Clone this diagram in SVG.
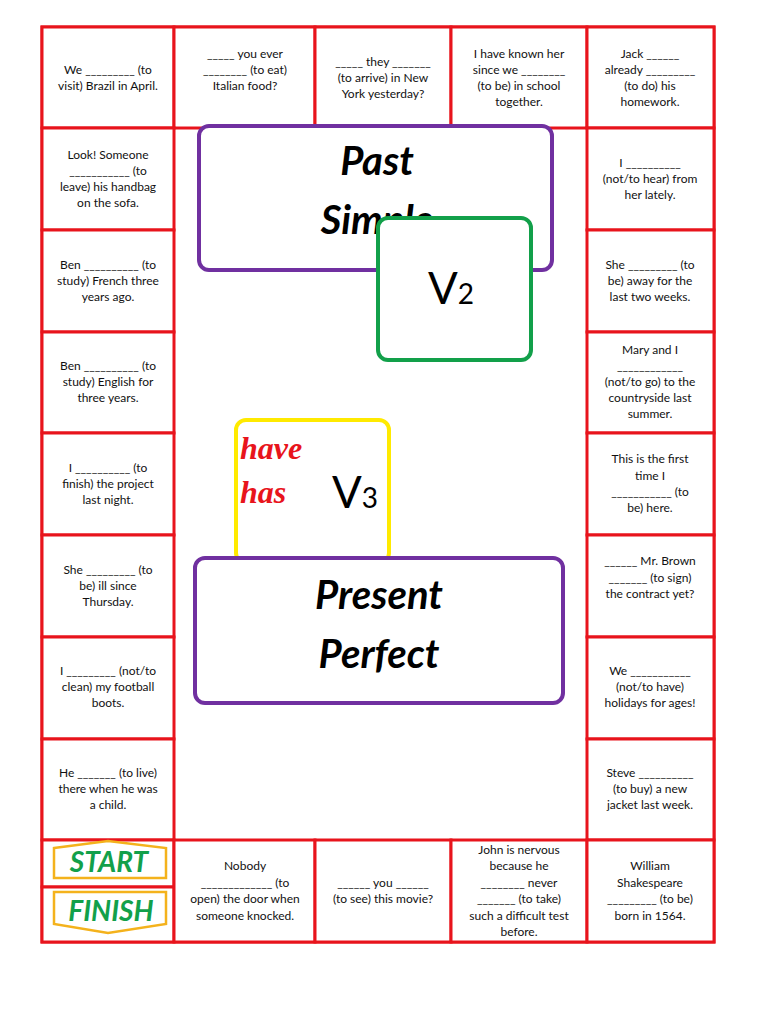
<svg xmlns="http://www.w3.org/2000/svg" width="768" height="1024" viewBox="0 0 768 1024">
<style>
.c{fill:#fff;stroke:#e8141c;stroke-width:3}
.t{font-family:Lato,"Open Sans",sans-serif;font-size:12px;fill:#111;text-anchor:middle}
.b{font-family:Lato,"Open Sans",sans-serif;font-style:italic;font-weight:bold;font-size:40px;fill:#000;text-anchor:middle}
.v{font-family:Lato,"Open Sans",sans-serif;font-size:44px;fill:#000}
.r{font-family:"Liberation Serif",serif;font-style:italic;font-weight:bold;font-size:32px;fill:#e8141c}
.g{font-family:Lato,"Open Sans",sans-serif;font-style:italic;font-weight:bold;font-size:28px;fill:#12a04a;text-anchor:middle}
.h{fill:#fff;stroke:#f4b21c;stroke-width:2.5}
</style>
<rect width="768" height="1024" fill="#fff"/>
<rect class="c" x="42" y="27" width="672" height="915"/>
<g id="cells">
<rect class="c" x="42" y="27" width="132" height="101"/><rect class="c" x="174" y="27" width="141" height="101"/><rect class="c" x="315" y="27" width="136" height="101"/><rect class="c" x="451" y="27" width="136" height="101"/><rect class="c" x="587" y="27" width="127" height="101"/>
<rect class="c" x="42" y="128" width="132" height="102"/><rect class="c" x="42" y="230" width="132" height="102"/><rect class="c" x="42" y="332" width="132" height="101"/><rect class="c" x="42" y="433" width="132" height="102"/><rect class="c" x="42" y="535" width="132" height="102"/><rect class="c" x="42" y="637" width="132" height="102"/><rect class="c" x="42" y="739" width="132" height="101"/>
<rect class="c" x="587" y="128" width="127" height="102"/><rect class="c" x="587" y="230" width="127" height="102"/><rect class="c" x="587" y="332" width="127" height="101"/><rect class="c" x="587" y="433" width="127" height="102"/><rect class="c" x="587" y="535" width="127" height="102"/><rect class="c" x="587" y="637" width="127" height="102"/><rect class="c" x="587" y="739" width="127" height="101"/>
<rect class="c" x="42" y="840" width="132" height="47"/><rect class="c" x="42" y="887" width="132" height="55"/>
<rect class="c" x="174" y="840" width="141" height="102"/><rect class="c" x="315" y="840" width="136" height="102"/><rect class="c" x="451" y="840" width="136" height="102"/><rect class="c" x="587" y="840" width="127" height="102"/>
</g>
<g id="texts">
<text class="t" x="108" y="74">We _________ (to</text><text class="t" x="108" y="90">visit) Brazil in April.</text>
<text class="t" x="245" y="58">_____ you ever</text><text class="t" x="245" y="74">________ (to eat)</text><text class="t" x="245" y="90">Italian food?</text>
<text class="t" x="383" y="66">_____ they _______</text><text class="t" x="383" y="82">(to arrive) in New</text><text class="t" x="383" y="98">York yesterday?</text>
<text class="t" x="519" y="58">I have known her</text><text class="t" x="519" y="74">since we ________</text><text class="t" x="519" y="90">(to be) in school</text><text class="t" x="519" y="106">together.</text>
<text class="t" x="650" y="58">Jack ______</text><text class="t" x="650" y="74">already _________</text><text class="t" x="650" y="90">(to do) his</text><text class="t" x="650" y="106">homework.</text>
<text class="t" x="108" y="159">Look! Someone</text><text class="t" x="108" y="175">___________ (to</text><text class="t" x="108" y="191">leave) his handbag</text><text class="t" x="108" y="207">on the sofa.</text>
<text class="t" x="108" y="269">Ben __________ (to</text><text class="t" x="108" y="285">study) French three</text><text class="t" x="108" y="301">years ago.</text>
<text class="t" x="108" y="370">Ben __________ (to</text><text class="t" x="108" y="386">study) English for</text><text class="t" x="108" y="402">three years.</text>
<text class="t" x="108" y="472">I __________ (to</text><text class="t" x="108" y="488">finish) the project</text><text class="t" x="108" y="504">last night.</text>
<text class="t" x="108" y="574">She _________ (to</text><text class="t" x="108" y="590">be) ill since</text><text class="t" x="108" y="606">Thursday.</text>
<text class="t" x="108" y="675">I _________ (not/to</text><text class="t" x="108" y="691">clean) my football</text><text class="t" x="108" y="707">boots.</text>
<text class="t" x="108" y="777">He _______ (to live)</text><text class="t" x="108" y="793">there when he was</text><text class="t" x="108" y="809">a child.</text>
<text class="t" x="650" y="167">I __________</text><text class="t" x="650" y="183">(not/to hear) from</text><text class="t" x="650" y="199">her lately.</text>
<text class="t" x="650" y="269">She _________ (to</text><text class="t" x="650" y="285">be) away for the</text><text class="t" x="650" y="301">last two weeks.</text>
<text class="t" x="650" y="354">Mary and I</text><text class="t" x="650" y="370">____________</text><text class="t" x="650" y="386">(not/to go) to the</text><text class="t" x="650" y="402">countryside last</text><text class="t" x="650" y="418">summer.</text>
<text class="t" x="650" y="463">This is the first</text><text class="t" x="650" y="480">time I</text><text class="t" x="650" y="496">___________ (to</text><text class="t" x="650" y="512">be) here.</text>
<text class="t" x="650" y="565">______ Mr. Brown</text><text class="t" x="650" y="582">_______ (to sign)</text><text class="t" x="650" y="598">the contract yet?</text>
<text class="t" x="650" y="675">We ___________</text><text class="t" x="650" y="691">(not/to have)</text><text class="t" x="650" y="707">holidays for ages!</text>
<text class="t" x="650" y="777">Steve __________</text><text class="t" x="650" y="793">(to buy) a new</text><text class="t" x="650" y="809">jacket last week.</text>
<text class="t" x="245" y="870">Nobody</text><text class="t" x="245" y="887">_____________ (to</text><text class="t" x="245" y="903">open) the door when</text><text class="t" x="245" y="920">someone knocked.</text>
<text class="t" x="383" y="887">______ you ______</text><text class="t" x="383" y="903">(to see) this movie?</text>
<text class="t" x="519" y="854">John is nervous</text><text class="t" x="519" y="870">because he</text><text class="t" x="519" y="887">________ never</text><text class="t" x="519" y="903">_______ (to take)</text><text class="t" x="519" y="920">such a difficult test</text><text class="t" x="519" y="936">before.</text>
<text class="t" x="650" y="870">William</text><text class="t" x="650" y="887">Shakespeare</text><text class="t" x="650" y="903">_________ (to be)</text><text class="t" x="650" y="920">born in 1564.</text>
</g>
<g id="start"><polygon class="h" points="54,848 108,841 166,848 166,878 54,878"/><text class="g" x="109" y="872">START</text></g>
<g id="finish"><polygon class="h" points="54,892 166,892 166,924 108,933 54,924"/><text class="g" x="111" y="921">FINISH</text></g>
<g id="past"><rect x="199" y="126" width="353" height="144" rx="10" fill="#fff" stroke="#7030a0" stroke-width="4"/><text class="b" x="377" y="175">Past</text><text class="b" x="377" y="234">Simple</text></g>
<g id="v2"><rect x="378" y="218" width="153" height="142" rx="10" fill="#fff" stroke="#12a04a" stroke-width="4"/><text class="v" x="428" y="304">V<tspan font-size="28">2</tspan></text></g>
<g id="v3"><rect x="236" y="420" width="153" height="143" rx="10" fill="#fff" stroke="#ffea00" stroke-width="4"/><text class="r" x="240" y="459">have</text><text class="r" x="240" y="503">has</text><text class="v" x="332" y="508">V<tspan font-size="28">3</tspan></text></g>
<g id="pp"><rect x="195" y="558" width="368" height="145" rx="10" fill="#fff" stroke="#7030a0" stroke-width="4"/><text class="b" x="379" y="609">Present</text><text class="b" x="379" y="668">Perfect</text></g>
</svg>
